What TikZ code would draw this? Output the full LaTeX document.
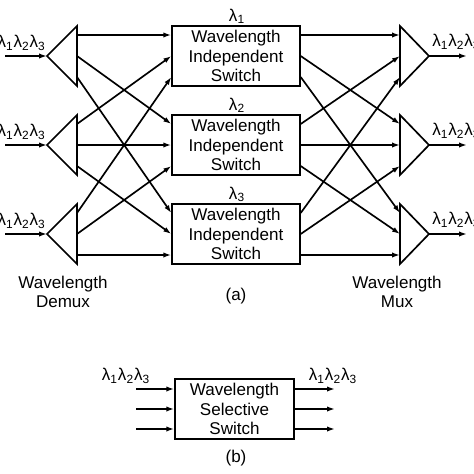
\documentclass[tikz,border=0pt]{standalone}
\usepackage{fontspec}
\setmainfont{Liberation Sans}
\usetikzlibrary{arrows.meta,calc}
\newcommand\lamset{λ\textsubscript{1}λ\textsubscript{2}λ\textsubscript{3}}
\tikzset{
  sig/.style={line width=0.95pt,-{Latex[length=4.5pt,width=3pt]}},
  tri/.style={line width=0.95pt,line join=miter},
  switchbox/.style={draw,line width=0.8pt,align=center,inner sep=0pt,
    minimum width=2.56cm,minimum height=1.2cm},
}
\begin{document}
\begin{tikzpicture}[x=0.02cm,y=-0.02cm,
  every node/.append style={font=\fontsize{9.7}{11.2}\selectfont}]
\useasboundingbox (0,0) rectangle (474,474);
% (a) demux, switches and mux in three rows
\foreach \r/\c in {1/56,2/145,3/234}{
  \coordinate (in\r) at (5,\c);
  \coordinate (dm\r) at (47,\c);
  \draw[tri] (dm\r) -- (77,{\c-30}) -- (77,{\c+30}) -- cycle;
  \node[switchbox] (sw\r) at (236,\c) {Wavelength\\Independent\\Switch};
  \node[anchor=south,inner sep=1pt] (lam\r) at (237,{\c-30}) {λ\textsubscript{\r}};
  \coordinate (mx\r) at (429,\c);
  \draw[tri] (mx\r) -- (400,{\c-30}) -- (400,{\c+30}) -- cycle;
  \coordinate (out\r) at (467,\c);
  \foreach \k in {1,2,3}{
    \coordinate (dm\r-\k) at (77,{\c+(\k-2)*21});
    \coordinate (swi\r-\k) at ($(sw\r.west)+(0,{(\k-2)*21})$);
    \coordinate (swo\r-\k) at ($(sw\r.east)+(0,{(\k-2)*21})$);
    \coordinate (mx\r-\k) at (400,{\c+(\k-2)*21});
  }
  \draw[sig] (in\r) -- (dm\r);
  \draw[sig] (mx\r) -- (out\r);
  \node[anchor=east,inner sep=0pt] (lin\r) at (46,{\c-13}) {\lamset};
  \node[anchor=west,inner sep=0pt] (lout\r) at (432,{\c-14}) {\lamset};
}
\foreach \r in {1,2,3}
  \foreach \k in {1,2,3}{
    \draw[sig] (dm\r-\k) -- (swi\k-\r);
    \draw[sig] (swo\r-\k) -- (mx\k-\r);
  }
\node[align=center] (dmlab) at (63,292) {Wavelength\\Demux};
\node[align=center] (mxlab) at (397,292) {Wavelength\\Mux};
\node (capa) at (236,296) {(a)};
% (b) selective switch
\node[switchbox,minimum width=2.38cm] (wss) at (234.5,409) {Wavelength\\Selective\\Switch};
\foreach \k in {1,2,3}{
  \coordinate (wi\k) at (136,{389+(\k-1)*20});
  \coordinate (wo\k) at (335,{389+(\k-1)*20});
  \draw[sig] (wi\k) -- (wss.west |- wi\k);
  \draw[sig] (wss.east |- wo\k) -- (wo\k);
}
\node[inner sep=0pt] (wlin) at (126,376) {\lamset};
\node[inner sep=0pt] (wlout) at (333,376) {\lamset};
\node (capb) at (236,458) {(b)};
\end{tikzpicture}
\end{document}
